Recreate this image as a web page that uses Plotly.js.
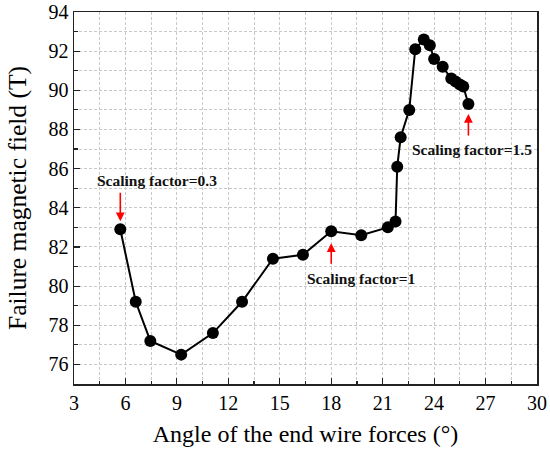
<!DOCTYPE html>
<html>
<head>
<meta charset="utf-8">
<script src="https://cdn.plot.ly/plotly-3.0.1.min.js"></script>
<style>html,body{margin:0;padding:0;background:#fff;}#chart{width:550px;height:452px;}</style>
</head>
<body>
<div id="chart"></div>
<script>
// Data
const angles = [5.7, 6.6, 7.45, 9.25, 11.1, 12.8, 14.6, 16.35, 18.0, 19.75, 21.3, 21.75, 21.85, 22.05, 22.55, 22.9, 23.4, 23.75, 24.0, 24.5, 25.0, 25.25, 25.5, 25.7, 26.0];
const fields = [82.9, 79.2, 77.2, 76.5, 77.6, 79.2, 81.4, 81.6, 82.8, 82.6, 83.0, 83.3, 86.1, 87.6, 89.0, 92.1, 92.6, 92.3, 91.6, 91.2, 90.6, 90.45, 90.3, 90.2, 89.3];
const labelTexts = ["Scaling factor=0.3", "Scaling factor=1", "Scaling factor=1.5"];
const labelIndex = [0, 8, 24];

const xTitle = "Angle of the end wire forces (°)";
const yTitle = "Failure magnetic field (T)";

const serif = "Liberation Serif, Times New Roman, serif";
const gridColor = "#c8c8c8";

// placement of the arrows (pixel offsets) and labels
const arrowAy = [-38, 34, 33];
const arrowStandoff = [8, 12, 10];
const textShiftX = [37, 30, 4];
const textShiftY = [49, -47, -45];

const annotations = [];
labelIndex.forEach((idx, i) => {
  annotations.push({
    x: angles[idx], y: fields[idx], xref: 'x', yref: 'y',
    text: '', showarrow: true, arrowcolor: '#ff0000', arrowhead: 2,
    arrowsize: 1.1, arrowwidth: 1.6, ax: 0, ay: arrowAy[i], standoff: arrowStandoff[i]
  });
  annotations.push({
    x: angles[idx], y: fields[idx], xref: 'x', yref: 'y',
    text: '<b>' + labelTexts[i] + '</b>', showarrow: false,
    xanchor: 'center', yanchor: 'middle', xshift: textShiftX[i], yshift: textShiftY[i],
    font: {family: serif, size: 15.5, color: '#111'}
  });
});

const trace = {
  x: angles, y: fields, type: 'scatter', mode: 'lines+markers',
  line: {color: '#000', width: 2},
  marker: {color: '#000', size: 12},
  showlegend: false, cliponaxis: false
};

const axisCommon = {
  showline: true, linecolor: '#222', linewidth: 1.5, mirror: true,
  ticks: 'inside', ticklen: 6, tickwidth: 1.2, tickcolor: '#222',
  showgrid: true, gridcolor: gridColor, gridwidth: 1, griddash: '3px,2px',
  zeroline: false, tickfont: {family: serif, size: 20, color: '#000'}
};

const layout = {
  width: 550, height: 452,
  margin: {l: 74, r: 13, t: 12, b: 67.5},
  paper_bgcolor: '#fff', plot_bgcolor: '#fff',
  xaxis: Object.assign({}, axisCommon, {
    range: [3, 30], dtick: 3, tick0: 3,
    minor: {dtick: 1.5, tick0: 3, ticks: 'inside', ticklen: 3.5, tickcolor: '#222', showgrid: true, gridcolor: gridColor, griddash: '3px,2px'},
    title: {text: xTitle, font: {family: serif, size: 24, color: '#000'}, standoff: 12}
  }),
  yaxis: Object.assign({}, axisCommon, {
    range: [75, 94], dtick: 2, tick0: 76,
    minor: {dtick: 1, ticks: 'inside', ticklen: 3.5, tickcolor: '#222', showgrid: true, gridcolor: gridColor, griddash: '3px,2px'},
    title: {text: yTitle, font: {family: serif, size: 25.5, color: '#000'}, standoff: 14}
  }),
  annotations: annotations
};

Plotly.newPlot('chart', [trace], layout, {displayModeBar: false, staticPlot: true});
</script>
</body>
</html>
